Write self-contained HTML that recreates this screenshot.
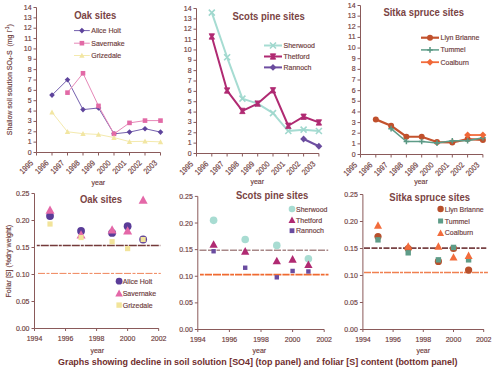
<!DOCTYPE html>
<html><head><meta charset="utf-8"><style>
html,body{margin:0;padding:0;background:#fff;width:498px;height:368px;overflow:hidden}
svg{display:block}
text{font-family:"Liberation Sans", sans-serif}
text.n{stroke:#6e3c3c;stroke-width:0.15px}
text.b{font-weight:bold}
</style></head><body>
<svg width="498" height="368" viewBox="0 0 498 368">
<rect width="498" height="368" fill="#fff"/>
<path d="M36.50,7.50V152.50H160.50" stroke="#8a5a5a" stroke-width="1" fill="none"/>
<path d="M33.50,152.50H36.50M33.50,142.14H36.50M33.50,131.79H36.50M33.50,121.43H36.50M33.50,111.07H36.50M33.50,100.71H36.50M33.50,90.36H36.50M33.50,80.00H36.50M33.50,69.64H36.50M33.50,59.29H36.50M33.50,48.93H36.50M33.50,38.57H36.50M33.50,28.21H36.50M33.50,17.86H36.50M33.50,7.50H36.50M36.50,152.50V155.50M52.00,152.50V155.50M67.50,152.50V155.50M83.00,152.50V155.50M98.50,152.50V155.50M114.00,152.50V155.50M129.50,152.50V155.50M145.00,152.50V155.50M160.50,152.50V155.50" stroke="#8a5a5a" stroke-width="1" fill="none"/>
<text class="n" transform="translate(31.60 154.50) scale(1.0 1.15)" font-size="7" text-anchor="end" fill="#6e3c3c">0</text>
<text class="n" transform="translate(31.60 144.14) scale(1.0 1.15)" font-size="7" text-anchor="end" fill="#6e3c3c">1</text>
<text class="n" transform="translate(31.60 133.79) scale(1.0 1.15)" font-size="7" text-anchor="end" fill="#6e3c3c">2</text>
<text class="n" transform="translate(31.60 123.43) scale(1.0 1.15)" font-size="7" text-anchor="end" fill="#6e3c3c">3</text>
<text class="n" transform="translate(31.60 113.07) scale(1.0 1.15)" font-size="7" text-anchor="end" fill="#6e3c3c">4</text>
<text class="n" transform="translate(31.60 102.71) scale(1.0 1.15)" font-size="7" text-anchor="end" fill="#6e3c3c">5</text>
<text class="n" transform="translate(31.60 92.36) scale(1.0 1.15)" font-size="7" text-anchor="end" fill="#6e3c3c">6</text>
<text class="n" transform="translate(31.60 82.00) scale(1.0 1.15)" font-size="7" text-anchor="end" fill="#6e3c3c">7</text>
<text class="n" transform="translate(31.60 71.64) scale(1.0 1.15)" font-size="7" text-anchor="end" fill="#6e3c3c">8</text>
<text class="n" transform="translate(31.60 61.29) scale(1.0 1.15)" font-size="7" text-anchor="end" fill="#6e3c3c">9</text>
<text class="n" transform="translate(31.60 50.93) scale(1.0 1.15)" font-size="7" text-anchor="end" fill="#6e3c3c">10</text>
<text class="n" transform="translate(31.60 40.57) scale(1.0 1.15)" font-size="7" text-anchor="end" fill="#6e3c3c">11</text>
<text class="n" transform="translate(31.60 30.21) scale(1.0 1.15)" font-size="7" text-anchor="end" fill="#6e3c3c">12</text>
<text class="n" transform="translate(31.60 19.86) scale(1.0 1.15)" font-size="7" text-anchor="end" fill="#6e3c3c">13</text>
<text class="n" transform="translate(31.60 9.50) scale(1.0 1.15)" font-size="7" text-anchor="end" fill="#6e3c3c">14</text>
<text class="n" transform="translate(33.70 163.40) rotate(-45) scale(1.0 1.15)" font-size="7" text-anchor="end" fill="#6e3c3c">1995</text>
<text class="n" transform="translate(49.20 163.40) rotate(-45) scale(1.0 1.15)" font-size="7" text-anchor="end" fill="#6e3c3c">1996</text>
<text class="n" transform="translate(64.70 163.40) rotate(-45) scale(1.0 1.15)" font-size="7" text-anchor="end" fill="#6e3c3c">1997</text>
<text class="n" transform="translate(80.20 163.40) rotate(-45) scale(1.0 1.15)" font-size="7" text-anchor="end" fill="#6e3c3c">1998</text>
<text class="n" transform="translate(95.70 163.40) rotate(-45) scale(1.0 1.15)" font-size="7" text-anchor="end" fill="#6e3c3c">1999</text>
<text class="n" transform="translate(111.20 163.40) rotate(-45) scale(1.0 1.15)" font-size="7" text-anchor="end" fill="#6e3c3c">2000</text>
<text class="n" transform="translate(126.70 163.40) rotate(-45) scale(1.0 1.15)" font-size="7" text-anchor="end" fill="#6e3c3c">2001</text>
<text class="n" transform="translate(142.20 163.40) rotate(-45) scale(1.0 1.15)" font-size="7" text-anchor="end" fill="#6e3c3c">2002</text>
<text class="n" transform="translate(157.70 163.40) rotate(-45) scale(1.0 1.15)" font-size="7" text-anchor="end" fill="#6e3c3c">2003</text>
<path d="M52.00,95.12L67.50,79.79L83.00,109.62L98.50,107.96L114.00,133.86L129.50,132.10L145.00,128.68L160.50,132.10" stroke="#7460ae" stroke-width="1" fill="none" stroke-linejoin="round"/>
<polygon points="52.00,92.32 54.80,95.12 52.00,97.92 49.20,95.12" fill="#5e449c"/>
<polygon points="67.50,76.99 70.30,79.79 67.50,82.59 64.70,79.79" fill="#5e449c"/>
<polygon points="83.00,106.82 85.80,109.62 83.00,112.42 80.20,109.62" fill="#5e449c"/>
<polygon points="98.50,105.16 101.30,107.96 98.50,110.76 95.70,107.96" fill="#5e449c"/>
<polygon points="114.00,131.06 116.80,133.86 114.00,136.66 111.20,133.86" fill="#5e449c"/>
<polygon points="129.50,129.30 132.30,132.10 129.50,134.90 126.70,132.10" fill="#5e449c"/>
<polygon points="145.00,125.88 147.80,128.68 145.00,131.48 142.20,128.68" fill="#5e449c"/>
<polygon points="160.50,129.30 163.30,132.10 160.50,134.90 157.70,132.10" fill="#5e449c"/>
<path d="M67.50,92.64L83.00,73.27L98.50,105.89L114.00,133.86L129.50,122.88L145.00,120.60L160.50,120.60" stroke="#e688b8" stroke-width="1" fill="none" stroke-linejoin="round"/>
<rect x="65.20" y="90.34" width="4.60" height="4.60" fill="#e26aa6"/>
<rect x="80.70" y="70.97" width="4.60" height="4.60" fill="#e26aa6"/>
<rect x="96.20" y="103.59" width="4.60" height="4.60" fill="#e26aa6"/>
<rect x="111.70" y="131.56" width="4.60" height="4.60" fill="#e26aa6"/>
<rect x="127.20" y="120.58" width="4.60" height="4.60" fill="#e26aa6"/>
<rect x="142.70" y="118.30" width="4.60" height="4.60" fill="#e26aa6"/>
<rect x="158.20" y="118.30" width="4.60" height="4.60" fill="#e26aa6"/>
<path d="M52.00,112.31L67.50,131.79L83.00,133.65L98.50,134.48L114.00,137.59L129.50,141.62L145.00,141.31L160.50,141.83" stroke="#f4eaae" stroke-width="1" fill="none" stroke-linejoin="round"/>
<polygon points="52.00,109.61 54.70,114.61 49.30,114.61" fill="#f2e6a2"/>
<polygon points="67.50,129.09 70.20,134.08 64.80,134.08" fill="#f2e6a2"/>
<polygon points="83.00,130.95 85.70,135.94 80.30,135.94" fill="#f2e6a2"/>
<polygon points="98.50,131.78 101.20,136.77 95.80,136.77" fill="#f2e6a2"/>
<polygon points="114.00,134.89 116.70,139.88 111.30,139.88" fill="#f2e6a2"/>
<polygon points="129.50,138.93 132.20,143.92 126.80,143.92" fill="#f2e6a2"/>
<polygon points="145.00,138.61 147.70,143.61 142.30,143.61" fill="#f2e6a2"/>
<polygon points="160.50,139.13 163.20,144.13 157.80,144.13" fill="#f2e6a2"/>
<text class="b" transform="translate(74.20 19.00) scale(1.0 1.09)" font-size="9.5" text-anchor="start" fill="#7a4444">Oak sites</text>
<path d="M74.00,30.60H89.80" stroke="#7460ae" stroke-width="1" fill="none"/>
<polygon points="81.90,27.80 84.70,30.60 81.90,33.40 79.10,30.60" fill="#5e449c"/>
<text class="n" transform="translate(91.30 33.10) scale(1.0 1.15)" font-size="7" text-anchor="start" fill="#6e3c3c">Alice Holt</text>
<path d="M74.00,43.20H89.80" stroke="#e688b8" stroke-width="1" fill="none"/>
<rect x="79.60" y="40.90" width="4.60" height="4.60" fill="#e26aa6"/>
<text class="n" transform="translate(91.30 45.70) scale(1.0 1.15)" font-size="7" text-anchor="start" fill="#6e3c3c">Savernake</text>
<path d="M74.00,55.50H89.80" stroke="#f4eaae" stroke-width="1" fill="none"/>
<polygon points="81.90,52.80 84.60,57.80 79.20,57.80" fill="#f2e6a2"/>
<text class="n" transform="translate(91.30 58.00) scale(1.0 1.15)" font-size="7" text-anchor="start" fill="#6e3c3c">Grizedale</text>
<text class="n" transform="translate(98.30 185.00) scale(1.0 1.15)" font-size="7" text-anchor="middle" fill="#6e3c3c">year</text>
<path d="M196.50,8.50V153.50H318.90" stroke="#8a5a5a" stroke-width="1" fill="none"/>
<path d="M193.50,153.50H196.50M193.50,143.14H196.50M193.50,132.79H196.50M193.50,122.43H196.50M193.50,112.07H196.50M193.50,101.71H196.50M193.50,91.36H196.50M193.50,81.00H196.50M193.50,70.64H196.50M193.50,60.29H196.50M193.50,49.93H196.50M193.50,39.57H196.50M193.50,29.21H196.50M193.50,18.86H196.50M193.50,8.50H196.50M196.50,153.50V156.50M211.80,153.50V156.50M227.10,153.50V156.50M242.40,153.50V156.50M257.70,153.50V156.50M273.00,153.50V156.50M288.30,153.50V156.50M303.60,153.50V156.50M318.90,153.50V156.50" stroke="#8a5a5a" stroke-width="1" fill="none"/>
<text class="n" transform="translate(191.60 155.50) scale(1.0 1.15)" font-size="7" text-anchor="end" fill="#6e3c3c">0</text>
<text class="n" transform="translate(191.60 145.14) scale(1.0 1.15)" font-size="7" text-anchor="end" fill="#6e3c3c">1</text>
<text class="n" transform="translate(191.60 134.79) scale(1.0 1.15)" font-size="7" text-anchor="end" fill="#6e3c3c">2</text>
<text class="n" transform="translate(191.60 124.43) scale(1.0 1.15)" font-size="7" text-anchor="end" fill="#6e3c3c">3</text>
<text class="n" transform="translate(191.60 114.07) scale(1.0 1.15)" font-size="7" text-anchor="end" fill="#6e3c3c">4</text>
<text class="n" transform="translate(191.60 103.71) scale(1.0 1.15)" font-size="7" text-anchor="end" fill="#6e3c3c">5</text>
<text class="n" transform="translate(191.60 93.36) scale(1.0 1.15)" font-size="7" text-anchor="end" fill="#6e3c3c">6</text>
<text class="n" transform="translate(191.60 83.00) scale(1.0 1.15)" font-size="7" text-anchor="end" fill="#6e3c3c">7</text>
<text class="n" transform="translate(191.60 72.64) scale(1.0 1.15)" font-size="7" text-anchor="end" fill="#6e3c3c">8</text>
<text class="n" transform="translate(191.60 62.29) scale(1.0 1.15)" font-size="7" text-anchor="end" fill="#6e3c3c">9</text>
<text class="n" transform="translate(191.60 51.93) scale(1.0 1.15)" font-size="7" text-anchor="end" fill="#6e3c3c">10</text>
<text class="n" transform="translate(191.60 41.57) scale(1.0 1.15)" font-size="7" text-anchor="end" fill="#6e3c3c">11</text>
<text class="n" transform="translate(191.60 31.21) scale(1.0 1.15)" font-size="7" text-anchor="end" fill="#6e3c3c">12</text>
<text class="n" transform="translate(191.60 20.86) scale(1.0 1.15)" font-size="7" text-anchor="end" fill="#6e3c3c">13</text>
<text class="n" transform="translate(191.60 10.50) scale(1.0 1.15)" font-size="7" text-anchor="end" fill="#6e3c3c">14</text>
<text class="n" transform="translate(193.70 164.40) rotate(-45) scale(1.0 1.15)" font-size="7" text-anchor="end" fill="#6e3c3c">1995</text>
<text class="n" transform="translate(209.00 164.40) rotate(-45) scale(1.0 1.15)" font-size="7" text-anchor="end" fill="#6e3c3c">1996</text>
<text class="n" transform="translate(224.30 164.40) rotate(-45) scale(1.0 1.15)" font-size="7" text-anchor="end" fill="#6e3c3c">1997</text>
<text class="n" transform="translate(239.60 164.40) rotate(-45) scale(1.0 1.15)" font-size="7" text-anchor="end" fill="#6e3c3c">1998</text>
<text class="n" transform="translate(254.90 164.40) rotate(-45) scale(1.0 1.15)" font-size="7" text-anchor="end" fill="#6e3c3c">1999</text>
<text class="n" transform="translate(270.20 164.40) rotate(-45) scale(1.0 1.15)" font-size="7" text-anchor="end" fill="#6e3c3c">2000</text>
<text class="n" transform="translate(285.50 164.40) rotate(-45) scale(1.0 1.15)" font-size="7" text-anchor="end" fill="#6e3c3c">2001</text>
<text class="n" transform="translate(300.80 164.40) rotate(-45) scale(1.0 1.15)" font-size="7" text-anchor="end" fill="#6e3c3c">2002</text>
<text class="n" transform="translate(316.10 164.40) rotate(-45) scale(1.0 1.15)" font-size="7" text-anchor="end" fill="#6e3c3c">2003</text>
<path d="M211.80,12.64L227.10,57.28L242.40,98.61L257.70,103.58L273.00,113.11L288.30,131.03L303.60,129.68L318.90,131.03" stroke="#a6dcd2" stroke-width="2" fill="none" stroke-linejoin="round"/>
<path d="M208.80,9.64L214.80,15.64M214.80,9.64L208.80,15.64" stroke="#a0d8ce" stroke-width="1.6" fill="none"/>
<path d="M224.10,54.28L230.10,60.28M230.10,54.28L224.10,60.28" stroke="#a0d8ce" stroke-width="1.6" fill="none"/>
<path d="M239.40,95.61L245.40,101.61M245.40,95.61L239.40,101.61" stroke="#a0d8ce" stroke-width="1.6" fill="none"/>
<path d="M254.70,100.58L260.70,106.58M260.70,100.58L254.70,106.58" stroke="#a0d8ce" stroke-width="1.6" fill="none"/>
<path d="M270.00,110.11L276.00,116.11M276.00,110.11L270.00,116.11" stroke="#a0d8ce" stroke-width="1.6" fill="none"/>
<path d="M285.30,128.03L291.30,134.03M291.30,128.03L285.30,134.03" stroke="#a0d8ce" stroke-width="1.6" fill="none"/>
<path d="M300.60,126.68L306.60,132.68M306.60,126.68L300.60,132.68" stroke="#a0d8ce" stroke-width="1.6" fill="none"/>
<path d="M315.90,128.03L321.90,134.03M321.90,128.03L315.90,134.03" stroke="#a0d8ce" stroke-width="1.6" fill="none"/>
<path d="M211.80,36.46L227.10,90.53L242.40,110.93L257.70,103.58L273.00,90.32L288.30,125.74L303.60,116.73L318.90,122.43" stroke="#b02a72" stroke-width="2" fill="none" stroke-linejoin="round"/>
<polygon points="209.10,33.76 214.50,33.76 213.02,36.46 214.50,39.16 209.10,39.16 210.59,36.46" fill="#b02a72" stroke="#b02a72" stroke-width="0.8"/>
<polygon points="224.40,87.83 229.80,87.83 228.31,90.53 229.80,93.23 224.40,93.23 225.88,90.53" fill="#b02a72" stroke="#b02a72" stroke-width="0.8"/>
<polygon points="239.70,108.23 245.10,108.23 243.62,110.93 245.10,113.63 239.70,113.63 241.19,110.93" fill="#b02a72" stroke="#b02a72" stroke-width="0.8"/>
<polygon points="255.00,100.88 260.40,100.88 258.91,103.58 260.40,106.28 255.00,106.28 256.49,103.58" fill="#b02a72" stroke="#b02a72" stroke-width="0.8"/>
<polygon points="270.30,87.62 275.70,87.62 274.21,90.32 275.70,93.02 270.30,93.02 271.79,90.32" fill="#b02a72" stroke="#b02a72" stroke-width="0.8"/>
<polygon points="285.60,123.04 291.00,123.04 289.51,125.74 291.00,128.44 285.60,128.44 287.09,125.74" fill="#b02a72" stroke="#b02a72" stroke-width="0.8"/>
<polygon points="300.90,114.03 306.30,114.03 304.81,116.73 306.30,119.43 300.90,119.43 302.39,116.73" fill="#b02a72" stroke="#b02a72" stroke-width="0.8"/>
<polygon points="316.20,119.73 321.60,119.73 320.11,122.43 321.60,125.13 316.20,125.13 317.69,122.43" fill="#b02a72" stroke="#b02a72" stroke-width="0.8"/>
<path d="M303.60,139.00L318.90,146.25" stroke="#6e4ea2" stroke-width="2" fill="none" stroke-linejoin="round"/>
<polygon points="303.60,135.60 307.00,139.00 303.60,142.40 300.20,139.00" fill="#6a4c9e"/>
<polygon points="318.90,142.85 322.30,146.25 318.90,149.65 315.50,146.25" fill="#6a4c9e"/>
<text class="b" transform="translate(232.50 19.70) scale(1.0 1.09)" font-size="9.5" text-anchor="start" fill="#7a4444">Scots pine sites</text>
<path d="M264.00,45.50H282.00" stroke="#a6dcd2" stroke-width="2" fill="none"/>
<path d="M270.00,42.50L276.00,48.50M276.00,42.50L270.00,48.50" stroke="#a0d8ce" stroke-width="1.6" fill="none"/>
<text class="n" transform="translate(283.50 48.00) scale(1.0 1.15)" font-size="7" text-anchor="start" fill="#6e3c3c">Sherwood</text>
<path d="M264.00,56.50H282.00" stroke="#b02a72" stroke-width="2" fill="none"/>
<polygon points="270.30,53.80 275.70,53.80 274.21,56.50 275.70,59.20 270.30,59.20 271.79,56.50" fill="#b02a72" stroke="#b02a72" stroke-width="0.8"/>
<text class="n" transform="translate(283.50 59.00) scale(1.0 1.15)" font-size="7" text-anchor="start" fill="#6e3c3c">Thetford</text>
<path d="M264.00,67.40H282.00" stroke="#6e4ea2" stroke-width="2" fill="none"/>
<polygon points="273.00,64.00 276.40,67.40 273.00,70.80 269.60,67.40" fill="#6a4c9e"/>
<text class="n" transform="translate(283.50 69.90) scale(1.0 1.15)" font-size="7" text-anchor="start" fill="#6e3c3c">Rannoch</text>
<text class="n" transform="translate(257.20 184.00) scale(1.0 1.15)" font-size="7" text-anchor="middle" fill="#6e3c3c">year</text>
<path d="M360.50,5.50V154.50H482.90" stroke="#8a5a5a" stroke-width="1" fill="none"/>
<path d="M357.50,154.50H360.50M357.50,143.86H360.50M357.50,133.21H360.50M357.50,122.57H360.50M357.50,111.93H360.50M357.50,101.29H360.50M357.50,90.64H360.50M357.50,80.00H360.50M357.50,69.36H360.50M357.50,58.71H360.50M357.50,48.07H360.50M357.50,37.43H360.50M357.50,26.79H360.50M357.50,16.14H360.50M357.50,5.50H360.50M360.50,154.50V157.50M375.80,154.50V157.50M391.10,154.50V157.50M406.40,154.50V157.50M421.70,154.50V157.50M437.00,154.50V157.50M452.30,154.50V157.50M467.60,154.50V157.50M482.90,154.50V157.50" stroke="#8a5a5a" stroke-width="1" fill="none"/>
<text class="n" transform="translate(355.60 156.50) scale(1.0 1.15)" font-size="7" text-anchor="end" fill="#6e3c3c">0</text>
<text class="n" transform="translate(355.60 145.86) scale(1.0 1.15)" font-size="7" text-anchor="end" fill="#6e3c3c">1</text>
<text class="n" transform="translate(355.60 135.21) scale(1.0 1.15)" font-size="7" text-anchor="end" fill="#6e3c3c">2</text>
<text class="n" transform="translate(355.60 124.57) scale(1.0 1.15)" font-size="7" text-anchor="end" fill="#6e3c3c">3</text>
<text class="n" transform="translate(355.60 113.93) scale(1.0 1.15)" font-size="7" text-anchor="end" fill="#6e3c3c">4</text>
<text class="n" transform="translate(355.60 103.29) scale(1.0 1.15)" font-size="7" text-anchor="end" fill="#6e3c3c">5</text>
<text class="n" transform="translate(355.60 92.64) scale(1.0 1.15)" font-size="7" text-anchor="end" fill="#6e3c3c">6</text>
<text class="n" transform="translate(355.60 82.00) scale(1.0 1.15)" font-size="7" text-anchor="end" fill="#6e3c3c">7</text>
<text class="n" transform="translate(355.60 71.36) scale(1.0 1.15)" font-size="7" text-anchor="end" fill="#6e3c3c">8</text>
<text class="n" transform="translate(355.60 60.71) scale(1.0 1.15)" font-size="7" text-anchor="end" fill="#6e3c3c">9</text>
<text class="n" transform="translate(355.60 50.07) scale(1.0 1.15)" font-size="7" text-anchor="end" fill="#6e3c3c">10</text>
<text class="n" transform="translate(355.60 39.43) scale(1.0 1.15)" font-size="7" text-anchor="end" fill="#6e3c3c">11</text>
<text class="n" transform="translate(355.60 28.79) scale(1.0 1.15)" font-size="7" text-anchor="end" fill="#6e3c3c">12</text>
<text class="n" transform="translate(355.60 18.14) scale(1.0 1.15)" font-size="7" text-anchor="end" fill="#6e3c3c">13</text>
<text class="n" transform="translate(355.60 7.50) scale(1.0 1.15)" font-size="7" text-anchor="end" fill="#6e3c3c">14</text>
<text class="n" transform="translate(357.70 165.40) rotate(-45) scale(1.0 1.15)" font-size="7" text-anchor="end" fill="#6e3c3c">1995</text>
<text class="n" transform="translate(373.00 165.40) rotate(-45) scale(1.0 1.15)" font-size="7" text-anchor="end" fill="#6e3c3c">1996</text>
<text class="n" transform="translate(388.30 165.40) rotate(-45) scale(1.0 1.15)" font-size="7" text-anchor="end" fill="#6e3c3c">1997</text>
<text class="n" transform="translate(403.60 165.40) rotate(-45) scale(1.0 1.15)" font-size="7" text-anchor="end" fill="#6e3c3c">1998</text>
<text class="n" transform="translate(418.90 165.40) rotate(-45) scale(1.0 1.15)" font-size="7" text-anchor="end" fill="#6e3c3c">1999</text>
<text class="n" transform="translate(434.20 165.40) rotate(-45) scale(1.0 1.15)" font-size="7" text-anchor="end" fill="#6e3c3c">2000</text>
<text class="n" transform="translate(449.50 165.40) rotate(-45) scale(1.0 1.15)" font-size="7" text-anchor="end" fill="#6e3c3c">2001</text>
<text class="n" transform="translate(464.80 165.40) rotate(-45) scale(1.0 1.15)" font-size="7" text-anchor="end" fill="#6e3c3c">2002</text>
<text class="n" transform="translate(480.10 165.40) rotate(-45) scale(1.0 1.15)" font-size="7" text-anchor="end" fill="#6e3c3c">2003</text>
<path d="M375.80,119.38L391.10,125.76L406.40,136.73L421.70,136.73L437.00,142.05L452.30,142.47L467.60,139.07L482.90,139.92" stroke="#c4532e" stroke-width="2.2" fill="none" stroke-linejoin="round"/>
<circle cx="375.80" cy="119.38" r="3.00" fill="#c0502c"/>
<circle cx="391.10" cy="125.76" r="3.00" fill="#c0502c"/>
<circle cx="406.40" cy="136.73" r="3.00" fill="#c0502c"/>
<circle cx="421.70" cy="136.73" r="3.00" fill="#c0502c"/>
<circle cx="437.00" cy="142.05" r="3.00" fill="#c0502c"/>
<circle cx="452.30" cy="142.47" r="3.00" fill="#c0502c"/>
<circle cx="467.60" cy="139.07" r="3.00" fill="#c0502c"/>
<circle cx="482.90" cy="139.92" r="3.00" fill="#c0502c"/>
<path d="M391.10,128.64L406.40,141.52L421.70,141.52L437.00,143.11L452.30,140.77L467.60,140.77L482.90,137.68" stroke="#5e9c88" stroke-width="1.5" fill="none" stroke-linejoin="round"/>
<path d="M391.10,125.84L391.10,131.44M388.30,128.64L393.90,128.64" stroke="#5a9884" stroke-width="1.5" fill="none"/>
<path d="M406.40,138.72L406.40,144.32M403.60,141.52L409.20,141.52" stroke="#5a9884" stroke-width="1.5" fill="none"/>
<path d="M421.70,138.72L421.70,144.32M418.90,141.52L424.50,141.52" stroke="#5a9884" stroke-width="1.5" fill="none"/>
<path d="M437.00,140.31L437.00,145.91M434.20,143.11L439.80,143.11" stroke="#5a9884" stroke-width="1.5" fill="none"/>
<path d="M452.30,137.97L452.30,143.57M449.50,140.77L455.10,140.77" stroke="#5a9884" stroke-width="1.5" fill="none"/>
<path d="M467.60,137.97L467.60,143.57M464.80,140.77L470.40,140.77" stroke="#5a9884" stroke-width="1.5" fill="none"/>
<path d="M482.90,134.88L482.90,140.48M480.10,137.68L485.70,137.68" stroke="#5a9884" stroke-width="1.5" fill="none"/>
<path d="M467.60,135.02L482.90,135.02" stroke="#f26c3c" stroke-width="1.8" fill="none" stroke-linejoin="round"/>
<polygon points="467.60,131.52 471.10,135.02 467.60,138.52 464.10,135.02" fill="#f06838"/>
<polygon points="482.90,131.52 486.40,135.02 482.90,138.52 479.40,135.02" fill="#f06838"/>
<text class="b" transform="translate(383.40 15.70) scale(1.0 1.09)" font-size="9.5" text-anchor="start" fill="#7a4444">Sitka spruce sites</text>
<path d="M421.00,37.70H439.00" stroke="#c4532e" stroke-width="2.2" fill="none"/>
<circle cx="430.00" cy="37.70" r="3.00" fill="#c0502c"/>
<text class="n" transform="translate(440.50 40.20) scale(1.0 1.15)" font-size="7" text-anchor="start" fill="#6e3c3c">Llyn Brianne</text>
<path d="M421.00,49.90H439.00" stroke="#5e9c88" stroke-width="1.5" fill="none"/>
<path d="M430.00,47.10L430.00,52.70M427.20,49.90L432.80,49.90" stroke="#5a9884" stroke-width="1.5" fill="none"/>
<text class="n" transform="translate(440.50 52.40) scale(1.0 1.15)" font-size="7" text-anchor="start" fill="#6e3c3c">Tummel</text>
<path d="M421.00,62.20H439.00" stroke="#f26c3c" stroke-width="1.8" fill="none"/>
<polygon points="430.00,58.70 433.50,62.20 430.00,65.70 426.50,62.20" fill="#f06838"/>
<text class="n" transform="translate(440.50 64.70) scale(1.0 1.15)" font-size="7" text-anchor="start" fill="#6e3c3c">Coalburn</text>
<text class="n" transform="translate(421.00 184.00) scale(1.0 1.15)" font-size="7" text-anchor="middle" fill="#6e3c3c">year</text>
<path d="M34.50,193.50V328.50H158.80" stroke="#8a5a5a" stroke-width="1" fill="none"/>
<path d="M31.50,328.50H34.50M31.50,301.50H34.50M31.50,274.50H34.50M31.50,247.50H34.50M31.50,220.50H34.50M31.50,193.50H34.50M34.50,328.50V331.00M65.54,328.50V331.00M96.58,328.50V331.00M127.62,328.50V331.00M158.66,328.50V331.00" stroke="#8a5a5a" stroke-width="1" fill="none"/>
<text class="n" transform="translate(29.50 331.00) scale(1.0 1.15)" font-size="7" text-anchor="end" fill="#6e3c3c">0.00</text>
<text class="n" transform="translate(29.50 304.00) scale(1.0 1.15)" font-size="7" text-anchor="end" fill="#6e3c3c">0.05</text>
<text class="n" transform="translate(29.50 277.00) scale(1.0 1.15)" font-size="7" text-anchor="end" fill="#6e3c3c">0.10</text>
<text class="n" transform="translate(29.50 250.00) scale(1.0 1.15)" font-size="7" text-anchor="end" fill="#6e3c3c">0.15</text>
<text class="n" transform="translate(29.50 223.00) scale(1.0 1.15)" font-size="7" text-anchor="end" fill="#6e3c3c">0.20</text>
<text class="n" transform="translate(29.50 196.00) scale(1.0 1.15)" font-size="7" text-anchor="end" fill="#6e3c3c">0.25</text>
<text class="n" transform="translate(34.50 340.70) scale(1.0 1.15)" font-size="7" text-anchor="middle" fill="#6e3c3c">1994</text>
<text class="n" transform="translate(65.54 340.70) scale(1.0 1.15)" font-size="7" text-anchor="middle" fill="#6e3c3c">1996</text>
<text class="n" transform="translate(96.58 340.70) scale(1.0 1.15)" font-size="7" text-anchor="middle" fill="#6e3c3c">1998</text>
<text class="n" transform="translate(127.62 340.70) scale(1.0 1.15)" font-size="7" text-anchor="middle" fill="#6e3c3c">2000</text>
<text class="n" transform="translate(158.66 340.70) scale(1.0 1.15)" font-size="7" text-anchor="middle" fill="#6e3c3c">2002</text>
<path d="M36.80,245.50H160.30" stroke="#743a3a" stroke-width="1.6" stroke-dasharray="3,1,8,1,8,1" fill="none"/>
<path d="M38.00,273.40H160.80" stroke="#f0845a" stroke-width="1" stroke-dasharray="7,1.5,3,1.5,7,1.5" fill="none"/>
<circle cx="50.02" cy="216.02" r="3.90" fill="#5a3c98"/>
<circle cx="81.06" cy="230.98" r="3.90" fill="#5a3c98"/>
<circle cx="112.10" cy="232.97" r="3.90" fill="#5a3c98"/>
<circle cx="127.62" cy="226.22" r="3.90" fill="#5a3c98"/>
<circle cx="143.14" cy="239.51" r="3.90" fill="#5a3c98"/>
<polygon points="50.02,205.42 54.52,213.74 45.52,213.74" fill="#e468a8"/>
<polygon points="81.06,230.20 85.56,238.53 76.56,238.53" fill="#e468a8"/>
<polygon points="112.10,225.29 116.60,233.61 107.60,233.61" fill="#e468a8"/>
<polygon points="127.62,226.26 132.12,234.58 123.12,234.58" fill="#e468a8"/>
<polygon points="143.14,195.48 147.64,203.81 138.64,203.81" fill="#e468a8"/>
<rect x="47.42" y="221.41" width="5.20" height="5.20" fill="#f2e49a"/>
<rect x="78.46" y="234.91" width="5.20" height="5.20" fill="#f2e49a"/>
<rect x="109.50" y="239.12" width="5.20" height="5.20" fill="#f2e49a"/>
<rect x="125.02" y="245.98" width="5.20" height="5.20" fill="#f2e49a"/>
<rect x="140.54" y="236.91" width="5.20" height="5.20" fill="#f2e49a"/>
<text class="b" transform="translate(79.90 202.50) scale(1.0 1.09)" font-size="9.5" text-anchor="start" fill="#7a4444">Oak sites</text>
<circle cx="119.10" cy="281.20" r="3.40" fill="#5a3c98"/>
<text class="n" transform="translate(122.70 283.70) scale(1.0 1.15)" font-size="7" text-anchor="start" fill="#6e3c3c">Alice Holt</text>
<polygon points="119.10,289.40 122.90,296.43 115.30,296.43" fill="#e468a8"/>
<text class="n" transform="translate(122.70 295.70) scale(1.0 1.15)" font-size="7" text-anchor="start" fill="#6e3c3c">Savernake</text>
<rect x="116.40" y="302.40" width="5.40" height="5.40" fill="#f2e49a"/>
<text class="n" transform="translate(122.70 307.60) scale(1.0 1.15)" font-size="7" text-anchor="start" fill="#6e3c3c">Grizedale</text>
<text class="n" transform="translate(97.20 352.60) scale(1.0 1.15)" font-size="7" text-anchor="middle" fill="#6e3c3c">year</text>
<path d="M197.80,196.40V329.50H324.20" stroke="#8a5a5a" stroke-width="1" fill="none"/>
<path d="M194.80,329.50H197.80M194.80,302.88H197.80M194.80,276.26H197.80M194.80,249.64H197.80M194.80,223.02H197.80M194.80,196.40H197.80M197.80,329.50V332.00M229.40,329.50V332.00M261.00,329.50V332.00M292.60,329.50V332.00M324.20,329.50V332.00" stroke="#8a5a5a" stroke-width="1" fill="none"/>
<text class="n" transform="translate(192.80 332.00) scale(1.0 1.15)" font-size="7" text-anchor="end" fill="#6e3c3c">0.00</text>
<text class="n" transform="translate(192.80 305.38) scale(1.0 1.15)" font-size="7" text-anchor="end" fill="#6e3c3c">0.05</text>
<text class="n" transform="translate(192.80 278.76) scale(1.0 1.15)" font-size="7" text-anchor="end" fill="#6e3c3c">0.10</text>
<text class="n" transform="translate(192.80 252.14) scale(1.0 1.15)" font-size="7" text-anchor="end" fill="#6e3c3c">0.15</text>
<text class="n" transform="translate(192.80 225.52) scale(1.0 1.15)" font-size="7" text-anchor="end" fill="#6e3c3c">0.20</text>
<text class="n" transform="translate(192.80 198.90) scale(1.0 1.15)" font-size="7" text-anchor="end" fill="#6e3c3c">0.25</text>
<text class="n" transform="translate(197.80 341.70) scale(1.0 1.15)" font-size="7" text-anchor="middle" fill="#6e3c3c">1994</text>
<text class="n" transform="translate(229.40 341.70) scale(1.0 1.15)" font-size="7" text-anchor="middle" fill="#6e3c3c">1996</text>
<text class="n" transform="translate(261.00 341.70) scale(1.0 1.15)" font-size="7" text-anchor="middle" fill="#6e3c3c">1998</text>
<text class="n" transform="translate(292.60 341.70) scale(1.0 1.15)" font-size="7" text-anchor="middle" fill="#6e3c3c">2000</text>
<text class="n" transform="translate(324.20 341.70) scale(1.0 1.15)" font-size="7" text-anchor="middle" fill="#6e3c3c">2002</text>
<path d="M199.50,250.20H328.20" stroke="#a88888" stroke-width="1.6" stroke-dasharray="7,1.5,7,1.5,3.5,1.5" fill="none"/>
<path d="M200.00,274.70H328.50" stroke="#f06a30" stroke-width="1.7" stroke-dasharray="3.8,1,7.2,1,8,1,7.2,1" fill="none"/>
<circle cx="213.60" cy="220.36" r="3.80" fill="#a8dcd2"/>
<circle cx="245.20" cy="239.52" r="3.80" fill="#a8dcd2"/>
<circle cx="276.80" cy="245.38" r="3.80" fill="#a8dcd2"/>
<circle cx="308.40" cy="258.69" r="3.80" fill="#a8dcd2"/>
<polygon points="213.60,240.17 217.75,247.84 209.45,247.84" fill="#b02a72"/>
<polygon points="245.20,247.09 249.35,254.76 241.05,254.76" fill="#b02a72"/>
<polygon points="276.80,256.67 280.95,264.35 272.65,264.35" fill="#b02a72"/>
<polygon points="292.60,255.07 296.75,262.75 288.45,262.75" fill="#b02a72"/>
<polygon points="308.40,260.40 312.55,268.07 304.25,268.07" fill="#b02a72"/>
<rect x="211.40" y="249.04" width="4.40" height="4.40" fill="#6a4ca0"/>
<rect x="243.00" y="265.54" width="4.40" height="4.40" fill="#6a4ca0"/>
<rect x="274.60" y="275.12" width="4.40" height="4.40" fill="#6a4ca0"/>
<rect x="290.40" y="268.74" width="4.40" height="4.40" fill="#6a4ca0"/>
<rect x="306.20" y="269.27" width="4.40" height="4.40" fill="#6a4ca0"/>
<text class="b" transform="translate(236.00 198.80) scale(1.0 1.09)" font-size="9.5" text-anchor="start" fill="#7a4444">Scots pine sites</text>
<circle cx="292.00" cy="209.00" r="3.30" fill="#a8dcd2"/>
<text class="n" transform="translate(296.00 211.50) scale(1.0 1.15)" font-size="7" text-anchor="start" fill="#6e3c3c">Sherwood</text>
<polygon points="292.00,216.50 295.50,222.97 288.50,222.97" fill="#b02a72"/>
<text class="n" transform="translate(296.00 222.50) scale(1.0 1.15)" font-size="7" text-anchor="start" fill="#6e3c3c">Thetford</text>
<rect x="289.60" y="228.30" width="4.80" height="4.80" fill="#6a4ca0"/>
<text class="n" transform="translate(296.00 233.20) scale(1.0 1.15)" font-size="7" text-anchor="start" fill="#6e3c3c">Rannoch</text>
<text class="n" transform="translate(259.40 352.60) scale(1.0 1.15)" font-size="7" text-anchor="middle" fill="#6e3c3c">year</text>
<path d="M362.90,194.50V329.50H483.90" stroke="#8a5a5a" stroke-width="1" fill="none"/>
<path d="M359.90,329.50H362.90M359.90,302.50H362.90M359.90,275.50H362.90M359.90,248.50H362.90M359.90,221.50H362.90M359.90,194.50H362.90M362.90,329.50V332.00M393.10,329.50V332.00M423.30,329.50V332.00M453.50,329.50V332.00M483.70,329.50V332.00" stroke="#8a5a5a" stroke-width="1" fill="none"/>
<text class="n" transform="translate(357.90 332.00) scale(1.0 1.15)" font-size="7" text-anchor="end" fill="#6e3c3c">0.00</text>
<text class="n" transform="translate(357.90 305.00) scale(1.0 1.15)" font-size="7" text-anchor="end" fill="#6e3c3c">0.05</text>
<text class="n" transform="translate(357.90 278.00) scale(1.0 1.15)" font-size="7" text-anchor="end" fill="#6e3c3c">0.10</text>
<text class="n" transform="translate(357.90 251.00) scale(1.0 1.15)" font-size="7" text-anchor="end" fill="#6e3c3c">0.15</text>
<text class="n" transform="translate(357.90 224.00) scale(1.0 1.15)" font-size="7" text-anchor="end" fill="#6e3c3c">0.20</text>
<text class="n" transform="translate(357.90 197.00) scale(1.0 1.15)" font-size="7" text-anchor="end" fill="#6e3c3c">0.25</text>
<text class="n" transform="translate(362.90 341.70) scale(1.0 1.15)" font-size="7" text-anchor="middle" fill="#6e3c3c">1994</text>
<text class="n" transform="translate(393.10 341.70) scale(1.0 1.15)" font-size="7" text-anchor="middle" fill="#6e3c3c">1996</text>
<text class="n" transform="translate(423.30 341.70) scale(1.0 1.15)" font-size="7" text-anchor="middle" fill="#6e3c3c">1998</text>
<text class="n" transform="translate(453.50 341.70) scale(1.0 1.15)" font-size="7" text-anchor="middle" fill="#6e3c3c">2000</text>
<text class="n" transform="translate(483.70 341.70) scale(1.0 1.15)" font-size="7" text-anchor="middle" fill="#6e3c3c">2002</text>
<path d="M364.00,248.10H486.30" stroke="#784244" stroke-width="1.8" stroke-dasharray="6,1.5,6,1.5,3,1.5" fill="none"/>
<path d="M364.00,272.60H487.90" stroke="#f08050" stroke-width="1.5" stroke-dasharray="7,1,7,1,3,1" fill="none"/>
<circle cx="378.00" cy="236.62" r="3.60" fill="#b8502c"/>
<circle cx="408.20" cy="248.50" r="3.60" fill="#b8502c"/>
<circle cx="438.40" cy="261.46" r="3.60" fill="#b8502c"/>
<circle cx="453.50" cy="248.50" r="3.60" fill="#b8502c"/>
<circle cx="468.60" cy="270.10" r="3.60" fill="#b8502c"/>
<rect x="375.30" y="237.16" width="5.40" height="5.40" fill="#5e9c88"/>
<rect x="405.50" y="250.12" width="5.40" height="5.40" fill="#5e9c88"/>
<rect x="435.70" y="257.14" width="5.40" height="5.40" fill="#5e9c88"/>
<rect x="450.80" y="244.72" width="5.40" height="5.40" fill="#5e9c88"/>
<rect x="465.90" y="257.14" width="5.40" height="5.40" fill="#5e9c88"/>
<polygon points="378.00,221.28 382.00,228.68 374.00,228.68" fill="#f26c3c"/>
<polygon points="408.20,242.34 412.20,249.74 404.20,249.74" fill="#f26c3c"/>
<polygon points="438.40,242.34 442.40,249.74 434.40,249.74" fill="#f26c3c"/>
<polygon points="453.50,253.14 457.50,260.54 449.50,260.54" fill="#f26c3c"/>
<polygon points="468.60,251.52 472.60,258.92 464.60,258.92" fill="#f26c3c"/>
<text class="b" transform="translate(389.30 200.80) scale(1.0 1.09)" font-size="9.5" text-anchor="start" fill="#7a4444">Sitka spruce sites</text>
<circle cx="440.60" cy="209.00" r="3.20" fill="#b8502c"/>
<text class="n" transform="translate(444.80 211.50) scale(1.0 1.15)" font-size="7" text-anchor="start" fill="#6e3c3c">Llyn Brianne</text>
<rect x="438.10" y="218.50" width="5.00" height="5.00" fill="#5e9c88"/>
<text class="n" transform="translate(444.80 223.50) scale(1.0 1.15)" font-size="7" text-anchor="start" fill="#6e3c3c">Tummel</text>
<polygon points="440.60,229.40 444.10,235.88 437.10,235.88" fill="#f26c3c"/>
<text class="n" transform="translate(444.80 235.40) scale(1.0 1.15)" font-size="7" text-anchor="start" fill="#6e3c3c">Coalburn</text>
<text class="n" transform="translate(423.20 352.60) scale(1.0 1.15)" font-size="7" text-anchor="middle" fill="#6e3c3c">year</text>
<text class="n" transform="translate(11.5 79.7) rotate(-90) scale(1 1.15)" font-size="7" text-anchor="middle" fill="#6e3c3c">Shallow soil solution SO<tspan font-size="5" dy="1.5">4</tspan><tspan dy="-1.5">-S&#160;&#160;(mg l</tspan><tspan font-size="5" dy="-2.5">-1</tspan><tspan dy="2.5">)</tspan></text>
<text class="n" transform="translate(11.3 261.2) rotate(-90) scale(1 1.15)" font-size="7" text-anchor="middle" fill="#6e3c3c">Foliar [S] (%dry weight)</text>
<text class="b" transform="translate(257.7 364.5) scale(1 1.08)" font-size="8.95" text-anchor="middle" fill="#702e2e">Graphs showing decline in soil solution [SO4] (top panel) and foliar [S] content (bottom panel)</text>
</svg></body></html>
